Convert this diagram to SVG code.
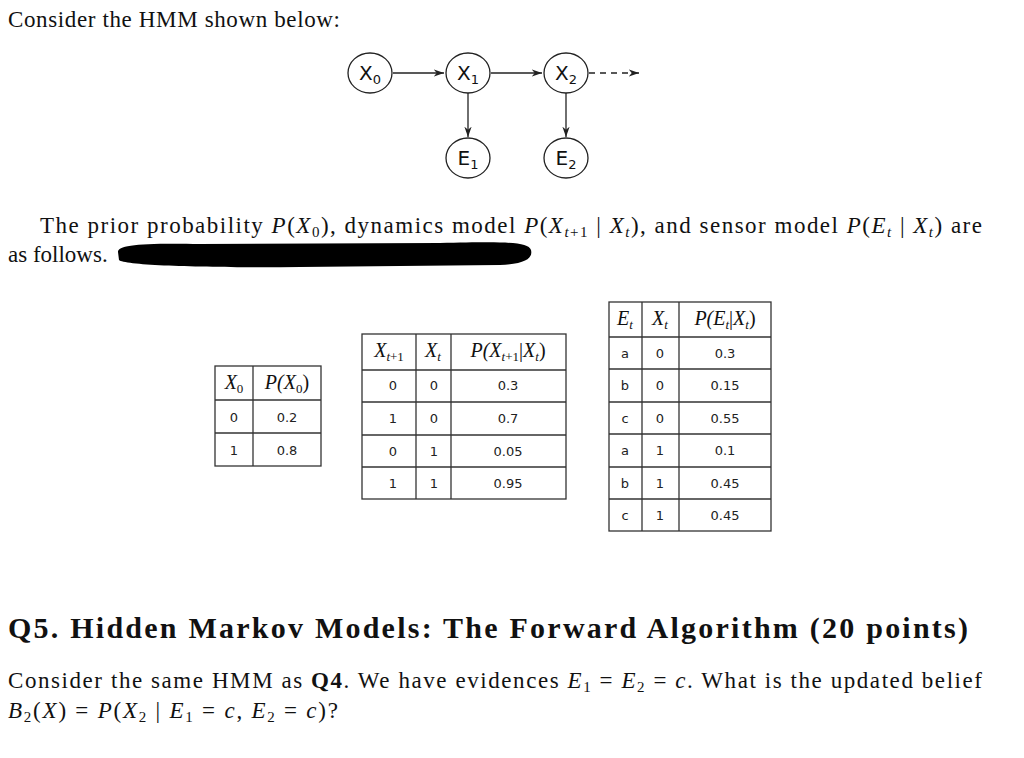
<svg xmlns="http://www.w3.org/2000/svg" width="1024" height="758" viewBox="0 0 1024 758">
<style>
.t{font-family:"Liberation Serif","Times New Roman",serif;font-size:23px;fill:#111}
.q{font-size:30px;font-weight:bold}
.i{font-style:italic}
.s{font-size:15px}
.n{fill:#fff;stroke:#222;stroke-width:1.3}
.nl{font-family:"DejaVu Sans",sans-serif;font-size:20px;fill:#111;text-anchor:middle}
.nl .sub{font-size:13px}
.tb{fill:none;stroke:#333;stroke-width:1.3}
.c{font-family:"DejaVu Sans",sans-serif;font-size:13px;fill:#222;text-anchor:middle}
.h{font-family:"Liberation Serif",serif;font-size:20px;font-style:italic;fill:#111;text-anchor:middle}
.e{stroke:#222;stroke-width:1.3;fill:none}
</style>
<defs><marker id="a" viewBox="0 0 10 10" refX="10" refY="5" markerWidth="8" markerHeight="8" orient="auto"><path d="M0,1.5 L10,5 L0,8.5 L3,5 z" fill="#222"/></marker></defs>
<rect width="1024" height="758" fill="#fff"/>
<text class="t" x="8" y="27" textLength="332" lengthAdjust="spacing">Consider the HMM shown below:</text>
<g id="edges">
<line class="e" x1="393" y1="73" x2="444" y2="73" marker-end="url(#a)"/>
<line class="e" x1="491" y1="73" x2="542" y2="73" marker-end="url(#a)"/>
<line class="e" x1="589" y1="73" x2="639" y2="73" stroke-dasharray="6,5" marker-end="url(#a)"/>
<line class="e" x1="468" y1="93" x2="468" y2="137" marker-end="url(#a)"/>
<line class="e" x1="566" y1="93" x2="566" y2="137" marker-end="url(#a)"/>
</g>
<g id="X0"><ellipse class="n" cx="370" cy="73" rx="22" ry="20"/><text class="nl" x="370" y="80">X<tspan class="sub" dy="4">0</tspan></text></g>
<g id="X1"><ellipse class="n" cx="468" cy="73" rx="22" ry="20"/><text class="nl" x="468" y="80">X<tspan class="sub" dy="4">1</tspan></text></g>
<g id="X2"><ellipse class="n" cx="566" cy="73" rx="22" ry="20"/><text class="nl" x="566" y="80">X<tspan class="sub" dy="4">2</tspan></text></g>
<g id="E1"><ellipse class="n" cx="468" cy="158" rx="22" ry="20"/><text class="nl" x="468" y="165">E<tspan class="sub" dy="4">1</tspan></text></g>
<g id="E2"><ellipse class="n" cx="566" cy="158" rx="22" ry="20"/><text class="nl" x="566" y="165">E<tspan class="sub" dy="4">2</tspan></text></g>

<text class="t" x="40" y="233" textLength="942" lengthAdjust="spacing">The prior probability <tspan class="i">P</tspan>(<tspan class="i">X</tspan><tspan class="s" dy="4">0</tspan><tspan dy="-4">), dynamics model </tspan><tspan class="i">P</tspan>(<tspan class="i">X</tspan><tspan class="s i" dy="4">t</tspan><tspan class="s" >+1</tspan><tspan dy="-4"> | </tspan><tspan class="i">X</tspan><tspan class="s i" dy="4">t</tspan><tspan dy="-4">), and sensor model </tspan><tspan class="i">P</tspan>(<tspan class="i">E</tspan><tspan class="s i" dy="4">t</tspan><tspan dy="-4"> | </tspan><tspan class="i">X</tspan><tspan class="s i" dy="4">t</tspan><tspan dy="-4">) are</tspan></text>
<text class="t" x="8" y="262">as follows.</text>
<path d="M118,252 C118,245 140,243 200,244 L440,243 C500,242 528,241 531,250 C533,258 526,264 500,265 L300,267 C220,268 125,266 119,260 Z" fill="#000"/>

<g id="table-prior">
<rect class="tb" x="215" y="366" width="106" height="100"/>
<line class="tb" x1="253" y1="366" x2="253" y2="466"/>
<line class="tb" x1="215" y1="400" x2="321" y2="400"/>
<line class="tb" x1="215" y1="433" x2="321" y2="433"/>
<text class="h" x="234" y="389">X<tspan font-size="13" font-style="normal" dy="4">0</tspan></text>
<text class="h" x="287" y="389">P(X<tspan font-size="13" font-style="normal" dy="4">0</tspan><tspan dy="-4" font-style="normal">)</tspan></text>
<text class="c" x="234" y="422">0</text><text class="c" x="287" y="422">0.2</text>
<text class="c" x="234" y="455">1</text><text class="c" x="287" y="455">0.8</text>
</g>
<g id="table-dyn">
<rect class="tb" x="362" y="334" width="204" height="165"/>
<line class="tb" x1="416" y1="334" x2="416" y2="499"/>
<line class="tb" x1="451" y1="334" x2="451" y2="499"/>
<line class="tb" x1="362" y1="370" x2="566" y2="370"/>
<line class="tb" x1="362" y1="402" x2="566" y2="402"/>
<line class="tb" x1="362" y1="435" x2="566" y2="435"/>
<line class="tb" x1="362" y1="467" x2="566" y2="467"/>
<text class="h" x="389" y="357">X<tspan font-size="13" dy="4">t</tspan><tspan font-size="13" font-style="normal">+1</tspan></text>
<text class="h" x="433" y="357">X<tspan font-size="13" dy="4">t</tspan></text>
<text class="h" x="508" y="357">P(X<tspan font-size="13" dy="4">t</tspan><tspan font-size="13" font-style="normal">+1</tspan><tspan dy="-4" font-style="normal">|</tspan>X<tspan font-size="13" dy="4">t</tspan><tspan dy="-4" font-style="normal">)</tspan></text>
<text class="c" x="393" y="390">0</text><text class="c" x="434" y="390">0</text><text class="c" x="508" y="390">0.3</text>
<text class="c" x="393" y="423">1</text><text class="c" x="434" y="423">0</text><text class="c" x="508" y="423">0.7</text>
<text class="c" x="393" y="456">0</text><text class="c" x="434" y="456">1</text><text class="c" x="508" y="456">0.05</text>
<text class="c" x="393" y="488">1</text><text class="c" x="434" y="488">1</text><text class="c" x="508" y="488">0.95</text>
</g>
<g id="table-sensor">
<rect class="tb" x="609" y="302" width="162" height="229"/>
<line class="tb" x1="642" y1="302" x2="642" y2="531"/>
<line class="tb" x1="679" y1="302" x2="679" y2="531"/>
<line class="tb" x1="609" y1="337" x2="771" y2="337"/>
<line class="tb" x1="609" y1="369" x2="771" y2="369"/>
<line class="tb" x1="609" y1="402" x2="771" y2="402"/>
<line class="tb" x1="609" y1="434" x2="771" y2="434"/>
<line class="tb" x1="609" y1="467" x2="771" y2="467"/>
<line class="tb" x1="609" y1="499" x2="771" y2="499"/>
<text class="h" x="625" y="325">E<tspan font-size="13" dy="4">t</tspan></text>
<text class="h" x="660" y="325">X<tspan font-size="13" dy="4">t</tspan></text>
<text class="h" x="725" y="325">P(E<tspan font-size="13" dy="4">t</tspan><tspan dy="-4" font-style="normal">|</tspan>X<tspan font-size="13" dy="4">t</tspan><tspan dy="-4" font-style="normal">)</tspan></text>
<text class="c" x="625" y="358">a</text><text class="c" x="660" y="358">0</text><text class="c" x="725" y="358">0.3</text>
<text class="c" x="625" y="390">b</text><text class="c" x="660" y="390">0</text><text class="c" x="725" y="390">0.15</text>
<text class="c" x="625" y="423">c</text><text class="c" x="660" y="423">0</text><text class="c" x="725" y="423">0.55</text>
<text class="c" x="625" y="455">a</text><text class="c" x="660" y="455">1</text><text class="c" x="725" y="455">0.1</text>
<text class="c" x="625" y="488">b</text><text class="c" x="660" y="488">1</text><text class="c" x="725" y="488">0.45</text>
<text class="c" x="625" y="520">c</text><text class="c" x="660" y="520">1</text><text class="c" x="725" y="520">0.45</text>
</g>

<text class="t q" x="8" y="638" textLength="960" lengthAdjust="spacing">Q5. Hidden Markov Models: The Forward Algorithm (20 points)</text>
<text class="t" x="8" y="688" textLength="974" lengthAdjust="spacing">Consider the same HMM as <tspan font-weight="bold">Q4</tspan>. We have evidences <tspan class="i">E</tspan><tspan class="s" dy="4">1</tspan><tspan dy="-4"> = </tspan><tspan class="i">E</tspan><tspan class="s" dy="4">2</tspan><tspan dy="-4"> = </tspan><tspan class="i">c</tspan>. What is the updated belief</text>
<text class="t" x="8" y="718" textLength="330" lengthAdjust="spacing"><tspan class="i">B</tspan><tspan class="s" dy="4">2</tspan><tspan dy="-4">(</tspan><tspan class="i">X</tspan>) = <tspan class="i">P</tspan>(<tspan class="i">X</tspan><tspan class="s" dy="4">2</tspan><tspan dy="-4"> | </tspan><tspan class="i">E</tspan><tspan class="s" dy="4">1</tspan><tspan dy="-4"> = </tspan><tspan class="i">c</tspan>, <tspan class="i">E</tspan><tspan class="s" dy="4">2</tspan><tspan dy="-4"> = </tspan><tspan class="i">c</tspan>)?</text>
</svg>
